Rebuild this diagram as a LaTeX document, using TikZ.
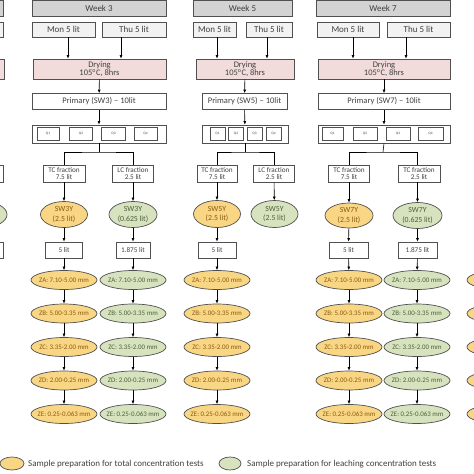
\documentclass[tikz,border=0pt]{standalone}
\usepackage{fontspec}
\setmainfont{Carlito}
\usetikzlibrary{shapes.geometric,arrows.meta,calc}
\definecolor{bordc}{HTML}{505050}
\definecolor{txtc}{HTML}{404040}
\definecolor{weekc}{HTML}{D3D3D3}
\definecolor{dayc}{HTML}{F2F2F2}
\definecolor{pinkc}{HTML}{F2DCDB}
\definecolor{yelc}{HTML}{F9D683}
\definecolor{grnc}{HTML}{D6E3BE}
\definecolor{ytxt}{HTML}{8A5A14}
\definecolor{gtxt}{HTML}{4F5F3A}
\tikzset{
  box/.style={draw=bordc, line width=0.7pt, rectangle, inner sep=0pt, text=txtc, align=center},
  weekbox/.style={box, fill=weekc, minimum height=16pt, font=\fontsize{9}{10}\selectfont},
  daybox/.style={box, fill=dayc, minimum height=15pt, font=\fontsize{9}{10}\selectfont},
  drybox/.style={box, fill=pinkc, minimum height=20pt, font=\fontsize{8.5}{8.5}\selectfont},
  pribox/.style={box, fill=white, minimum height=16pt, font=\fontsize{8.5}{9.5}\selectfont},
  qcont/.style={box, fill=white, minimum height=18pt},
  qbox/.style={box, fill=white, minimum height=13pt, font=\fontsize{3.5}{4}\selectfont},
  fracbox/.style={box, fill=white, minimum height=17pt, font=\fontsize{7.2}{7.6}\selectfont},
  volbox/.style={box, fill=white, minimum height=16pt, font=\fontsize{7.2}{8}\selectfont},
  ell/.style={ellipse, draw=bordc, line width=0.7pt, inner sep=0pt, align=center},
  swy/.style={ell, fill=yelc, text=ytxt, font=\fontsize{7.8}{9.5}\selectfont},
  swg/.style={ell, fill=grnc, text=gtxt, font=\fontsize{7.8}{9.5}\selectfont},
  zell/.style={ell, inner xsep=-14pt, minimum width=66pt, minimum height=19pt, font=\fontsize{6.9}{7.5}\selectfont},
  arr/.style={-{Latex[length=3.5pt,width=3pt]}, line width=0.6pt, black},
  lin/.style={line width=0.6pt, black},
  legtext/.style={anchor=west, inner sep=0pt, text=txtc, font=\fontsize{9}{10}\selectfont}
}
\begin{document}
\begin{tikzpicture}[x=1pt,y=-1pt]
\useasboundingbox (0,0) rectangle (474,474);
\clip (0,0) rectangle (474,474);
\fill[white] (0,0) rectangle (474,474);

% ---------- Week 1 (partial, left edge) ----------
\node[weekbox, minimum width=134pt] (w1wk) at (-64,8.25) {};
\node[daybox, minimum width=64pt] (w1thu) at (-29,29.5) {};
\node[drybox, minimum width=132pt] (w1dry) at (-62,69) {};
\node[fracbox, minimum width=41pt] (w1lc) at (-17.5,173.5) {};
\node[swg, minimum width=48pt, minimum height=26pt] (w1sg) at (-17,214.5) {};
\node[volbox, minimum width=34pt] (w1lv) at (-14,250) {};

% ---------- Week 3 ----------
\node[weekbox, minimum width=134pt] (w3wk) at (99,8.25) {Week 3};
\node[daybox, minimum width=63pt] (w3mon) at (63.5,29.5) {Mon 5 lit};
\node[daybox, minimum width=64pt] (w3thu) at (134,29.5) {Thu 5 lit};
\node[drybox, minimum width=133pt] (w3dry) at (99.5,69) {Drying\\105\textsuperscript{o}C, 8hrs};
\node[pribox, minimum width=134pt] (w3pri) at (99,101.5) {Primary (SW3) -- 10lit};
\node[qcont, minimum width=134pt] (w3q) at (99,134) {};
\node[qbox, minimum width=22pt] (w3q1) at (48,133.5) {Q1};
\node[qbox, minimum width=23pt] (w3q2) at (81,133.5) {Q2};
\node[qbox, minimum width=24pt] (w3q3) at (113.5,133.5) {Q3};
\node[qbox, minimum width=23pt] (w3q4) at (145.5,133.5) {Q4};
\coordinate (w3j) at (99,152);
\node[fracbox, minimum width=42pt] (w3tc) at (64,173.5) {TC fraction\\7.5 lit};
\node[fracbox, minimum width=41pt] (w3lc) at (133,173.5) {LC fraction\\2.5 lit};
\node[swy, minimum width=47pt, minimum height=26pt] (w3sy) at (64,214.5) {SW3Y\\(2.5 lit)};
\node[swg, minimum width=48pt, minimum height=26pt] (w3sg) at (133,214.5) {SW3Y\\(0.625 lit)};
\node[volbox, minimum width=37pt] (w3v) at (64,250) {5 lit};
\node[volbox, minimum width=34pt] (w3lv) at (133,250) {1.875 lit};

\draw[arr] (68,0 |- w3mon.south) -- (68,0 |- w3dry.north);
\draw[arr] (121,0 |- w3thu.south) -- (121,0 |- w3dry.north);
\draw[arr] (w3dry) -- (w3pri);
\draw[arr] (w3pri) -- (w3q);
\draw[lin] (w3q.south) -- (w3j);
\draw[lin] (w3tc.north) |- (w3j) -| (w3lc.north);
\draw[arr] (w3tc) -- (w3sy);
\draw[arr] (w3lc) -- (w3sg);
\draw[arr] (w3sy) -- (w3v);
\draw[arr] (w3sg) -- (w3lv);

% ---------- Week 5 ----------
\node[weekbox, minimum width=99pt] (w5wk) at (242.5,8.25) {Week 5};
\node[daybox, minimum width=43pt] (w5mon) at (214.5,29.5) {Mon 5 lit};
\node[daybox, minimum width=46pt] (w5thu) at (269,29.5) {Thu 5 lit};
\node[drybox, minimum width=98pt] (w5dry) at (245,69) {Drying\\105\textsuperscript{o}C, 8hrs};
\node[pribox, minimum width=85pt] (w5pri) at (244.5,101.5) {Primary (SW5) -- 10lit};
\node[qcont, minimum width=86pt] (w5q) at (245,134) {};
\node[qbox, minimum width=15pt] (w5q1) at (217.5,133.5) {Q1};
\node[qbox, minimum width=15pt] (w5q2) at (236,133.5) {Q2};
\node[qbox, minimum width=15pt] (w5q3) at (254.5,133.5) {Q3};
\node[qbox, minimum width=15pt] (w5q4) at (273.5,133.5) {Q4};
\coordinate (w5j) at (245,152);
\node[fracbox, minimum width=40pt] (w5tc) at (217,173.5) {TC fraction\\7.5 lit};
\node[fracbox, minimum width=41pt] (w5lc) at (274,173.5) {LC fraction\\2.5 lit};
\node[swy, minimum width=47pt, minimum height=27pt] (w5sy) at (217,214) {SW5Y\\(2.5 lit)};
\node[swg, minimum width=47pt, minimum height=27pt] (w5sg) at (274.5,214) {SW5Y\\(2.5 lit)};
\node[volbox, minimum width=38pt] (w5v) at (217,250) {5 lit};

\draw[arr] (217,0 |- w5mon.south) -- (217,0 |- w5dry.north);
\draw[arr] (267,0 |- w5thu.south) -- (267,0 |- w5dry.north);
\draw[arr] (w5dry) -- (w5pri);
\draw[arr] (w5pri) -- (w5q);
\draw[lin] (w5q.south) -- (w5j);
\draw[lin] (w5tc.north) |- (w5j) -| (w5lc.north);
\draw[arr] (w5tc) -- (w5sy);
\draw[arr] (w5lc) -- (w5sg);
\draw[arr] (w5sy) -- (w5v);

% ---------- Week 7 ----------
\node[weekbox, minimum width=134pt] (w7wk) at (383,8.25) {Week 7};
\node[daybox, minimum width=62pt] (w7mon) at (348,29.5) {Mon 5 lit};
\node[daybox, minimum width=63pt] (w7thu) at (418.5,29.5) {Thu 5 lit};
\node[drybox, minimum width=132pt] (w7dry) at (384,69) {Drying\\105\textsuperscript{o}C, 8hrs};
\node[pribox, minimum width=132pt] (w7pri) at (384,101.5) {Primary (SW7) -- 10lit};
\node[qcont, minimum width=132pt] (w7q) at (384,134) {};
\node[qbox, minimum width=21pt] (w7q1) at (332.5,133.5) {Q1};
\node[qbox, minimum width=24pt] (w7q2) at (365,133.5) {Q2};
\node[qbox, minimum width=24pt] (w7q3) at (398,133.5) {Q3};
\node[qbox, minimum width=25pt] (w7q4) at (430.5,133.5) {Q4};
\coordinate (w7j) at (383,152);
\node[fracbox, minimum width=41pt] (w7tc) at (349,173.5) {TC fraction\\7.5 lit};
\node[fracbox, minimum width=42pt] (w7lc) at (419,173.5) {TC fraction\\2.5 lit};
\node[swy, minimum width=48pt, minimum height=25pt] (w7sy) at (349,215.5) {SW7Y\\(2.5 lit)};
\node[swg, minimum width=49pt, minimum height=26pt] (w7sg) at (417.5,215.5) {SW7Y\\(0.625 lit)};
\node[volbox, minimum width=39pt] (w7v) at (348.5,250) {5 lit};
\node[volbox, minimum width=39pt] (w7lv) at (417.5,250) {1.875 lit};

\draw[arr] (353,0 |- w7mon.south) -- (353,0 |- w7dry.north);
\draw[arr] (406,0 |- w7thu.south) -- (406,0 |- w7dry.north);
\draw[arr] (w7dry) -- (w7pri);
\draw[arr] (w7pri) -- (w7q);
\draw[lin] (w7q.south) -- (w7j);
\draw[lin] (w7tc.north) |- (w7j) -| (417.5,0 |- w7lc.north);
\draw[arr] (w7tc) -- (w7sy);
\draw[arr] (417.5,0 |- w7lc.south) -- (w7sg);
\draw[arr] (w7sy) -- (w7v);
\draw[arr] (w7sg) -- (w7lv);

% ---------- Size-fraction chains ----------
\foreach \col/\x/\fc/\tc in {w3y/64/yelc/ytxt, w3g/133/grnc/gtxt, w5y/217/yelc/ytxt, w7y/349/yelc/ytxt, w7g/417/grnc/gtxt}{
  \foreach \k/\lab [count=\i from 0] in {a/{ZA: 7.10-5.00 mm}, b/{ZB: 5.00-3.35 mm}, c/{ZC: 3.35-2.00 mm}, d/{ZD: 2.00-0.25 mm}, e/{ZE: 0.25-0.063 mm}}{
    \node[zell, fill=\fc, text=\tc] (\col\k) at (\x,{280+33.5*\i}) {\lab};
  }
  \draw[arr] (\col a) -- (\col b);
  \draw[arr] (\col b) -- (\col c);
  \draw[arr] (\col c) -- (\col d);
  \draw[arr] (\col d) -- (\col e);
}
% Week 9 (partial, right edge)
\foreach \k [count=\i from 0] in {a,b,c,d,e}{
  \node[zell, fill=yelc] (w9y\k) at (500,{280+33.5*\i}) {};
}
\draw[arr] (w3v) -- (w3ya);
\draw[arr] (w3lv) -- (w3ga);
\draw[arr] (w5v) -- (w5ya);
\draw[arr] (w7v) -- (w7ya);
\draw[arr] (w7lv) -- (w7ga);

% ---------- Legend ----------
\node[ell, fill=yelc, minimum width=24pt, minimum height=13pt] (ly) at (12,463.5) {};
\node[legtext] (lyt) at (28,464) {Sample preparation for total concentration tests};
\node[ell, fill=grnc, minimum width=22pt, minimum height=13pt] (lg) at (230,463.5) {};
\node[legtext] (lgt) at (247,464) {Sample preparation for leaching concentration tests};
\end{tikzpicture}
\end{document}
